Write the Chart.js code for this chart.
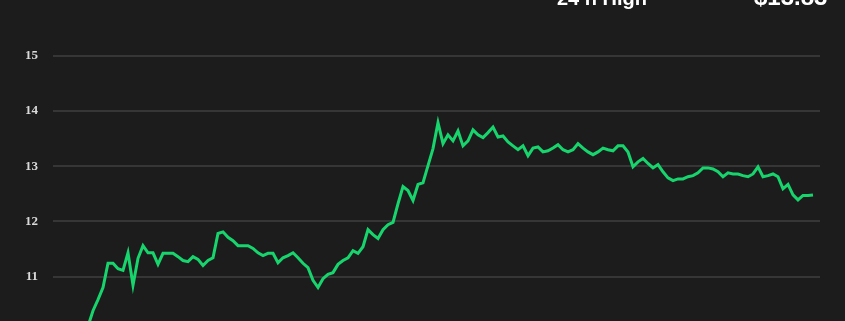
<!DOCTYPE html>
<html>
<head>
<meta charset="utf-8">
<script src="https://cdn.jsdelivr.net/npm/chart.js@4"></script>
<style>
  html, body { margin: 0; padding: 0; background: #1c1c1c; overflow: hidden; }
  #wrap { position: relative; width: 845px; height: 321px; overflow: hidden; }
  #priceChart { position: absolute; left: 0; top: 0; }
  .head { position: absolute; color: #fff; font-family: "Liberation Sans", Arial, sans-serif; font-weight: bold; line-height: 1; white-space: nowrap; }
</style>
</head>
<body>
<div id="wrap">
  <canvas id="priceChart" width="845" height="382"></canvas>
  <span class="head" style="left:557px; top:-12px; font-size:20px;">24 h High</span>
  <span class="head" style="left:754px; top:-15px; font-size:24px;">$13.83</span>
</div>
<script>
// precos ao longo de 24h (um ponto a cada intervalo igual)
const prices = [
  9.75, 9.91, 10.10, 10.38, 10.58, 10.80, 11.24, 11.24, 11.14, 11.11,
  11.43, 10.84, 11.33, 11.56, 11.43, 11.43, 11.22, 11.42, 11.42, 11.42,
  11.36, 11.29, 11.27, 11.36, 11.31, 11.20, 11.29, 11.34, 11.78, 11.81,
  11.71, 11.65, 11.56, 11.56, 11.56, 11.51, 11.43, 11.38, 11.42, 11.42,
  11.25, 11.34, 11.38, 11.43, 11.34, 11.24, 11.16, 10.93, 10.80, 10.96,
  11.04, 11.07, 11.22, 11.29, 11.34, 11.47, 11.42, 11.54, 11.85, 11.76,
  11.69, 11.85, 11.94, 11.98, 12.32, 12.63, 12.56, 12.38, 12.67, 12.70,
  13.01, 13.32, 13.79, 13.41, 13.57, 13.46, 13.64, 13.37, 13.46, 13.66,
  13.57, 13.52, 13.61, 13.71, 13.53, 13.55, 13.44, 13.37, 13.30, 13.37,
  13.19, 13.33, 13.35, 13.26, 13.28, 13.33, 13.39, 13.30, 13.26, 13.30,
  13.41, 13.33, 13.26, 13.21, 13.26, 13.33, 13.30, 13.28, 13.37, 13.37,
  13.26, 12.99, 13.08, 13.14, 13.05, 12.97, 13.03, 12.90, 12.79, 12.74,
  12.77, 12.77, 12.81, 12.83, 12.88, 12.97, 12.97, 12.95, 12.90, 12.81,
  12.88, 12.86, 12.86, 12.83, 12.81, 12.86, 12.99, 12.81, 12.83, 12.86,
  12.81, 12.59, 12.67, 12.48, 12.39, 12.47, 12.47, 12.48
];
const steps = prices.map((p, i) => i);
const yTicks = [11, 12, 13, 14, 15];

const ctx = document.getElementById("priceChart").getContext("2d");
const priceChart = new Chart(ctx, {
  type: "line",
  data: {
    labels: steps,
    datasets: [
      {
        label: "Price",
        data: prices.map((p, i) => ({ x: steps[i], y: p })),
        borderColor: "#17d46d",
        borderWidth: 3,
        pointRadius: 0,
        tension: 0,
        fill: false,
      },
    ],
  },
  options: {
    responsive: false,
    animation: false,
    devicePixelRatio: 1,
    layout: { padding: { top: 56, right: 25, bottom: 11, left: 0 } },
    plugins: {
      legend: { display: false },
      tooltip: { enabled: false },
    },
    scales: {
      x: {
        type: "linear",
        display: false,
        min: -5,
        max: 148.4,
      },
      y: {
        min: 9.5,
        max: 15,
        afterFit: function (scale) {
          scale.width = 53;
        },
        afterBuildTicks: function (scale) {
          scale.ticks = yTicks.map((v) => ({ value: v }));
        },
        border: { display: false },
        grid: {
          color: "#363636",
          lineWidth: 2,
          drawTicks: false,
        },
        ticks: {
          padding: 15,
          color: "#dadada",
          font: { family: "'Liberation Serif', serif", size: 13, weight: "bold" },
        },
      },
    },
  },
});
</script>
</body>
</html>
